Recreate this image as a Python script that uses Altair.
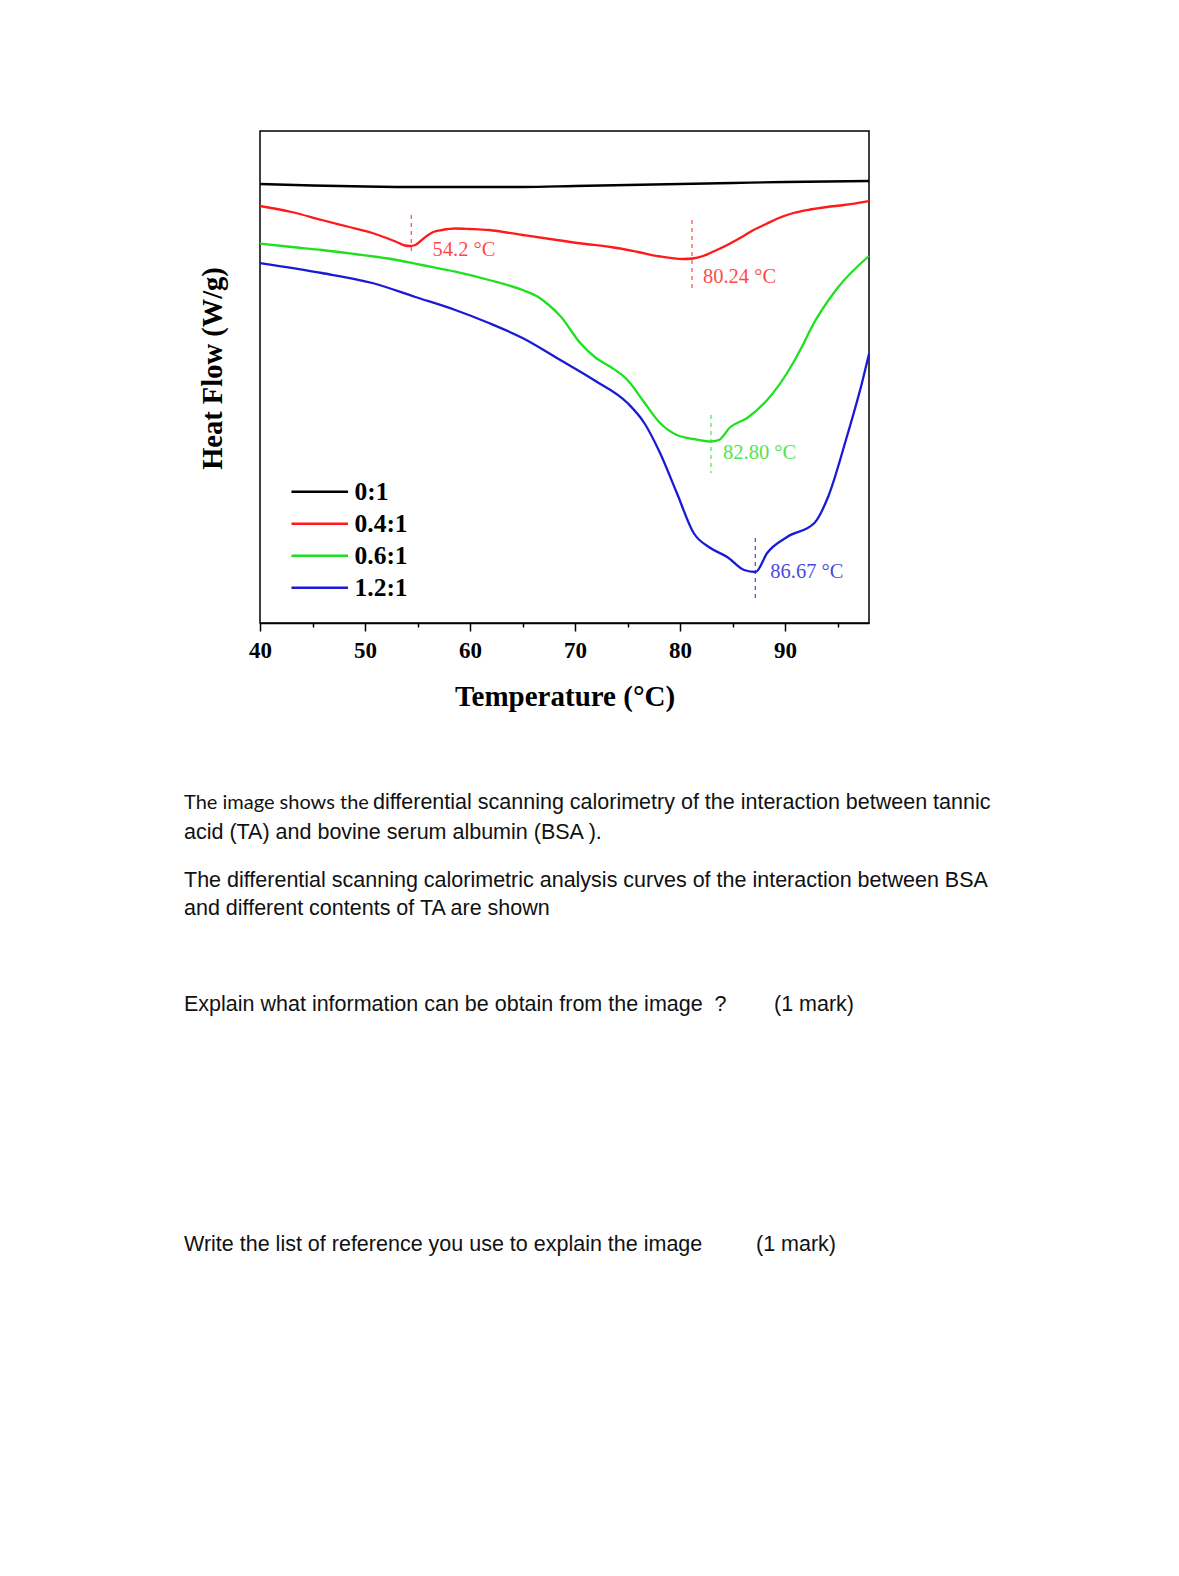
import altair as alt
import pandas as pd

# ---------------- data (arbitrary heat-flow units) -------------
series_names = ["0:1", "0.4:1", "0.6:1", "1.2:1"]
series_colors = ["#000000", "#ff1a1a", "#1fe01f", "#1a1ad6"]

t_black = [40, 45, 50, 55, 60, 65, 70, 75, 80, 85, 90, 98]
hf_black = [4.36, 4.345, 4.335, 4.33, 4.33, 4.33, 4.34, 4.35, 4.36, 4.37, 4.38, 4.39]

t_red = [40, 43, 45.9, 48.5, 50.7, 52.9, 53.8, 54.3, 54.8, 55.3, 55.8, 56.5, 57.35, 58.6,
         60, 61.8, 65, 68.6, 71, 73.4, 76, 78.1, 80.3, 81.2, 82.2, 83.3, 84.5, 85.8, 87,
         88.2, 89.3, 90.8, 92.4, 94, 95.6, 98]
hf_red = [4.14, 4.08, 4.00, 3.93, 3.87, 3.785, 3.745, 3.74, 3.75, 3.79, 3.833, 3.88, 3.90, 3.915,
          3.91, 3.90, 3.85, 3.795, 3.76, 3.73, 3.68, 3.635, 3.61, 3.615, 3.64, 3.69, 3.75, 3.825, 3.90,
          3.96, 4.015, 4.07, 4.105, 4.13, 4.15, 4.19]

t_green = [40, 43, 45.9, 49, 52.2, 55.4, 58.6, 61.8, 65, 66.5, 67.5, 68.6, 70.5, 72, 73.4, 75,
           76.5, 78.1, 79.7, 81.3, 82.9, 83.7, 84.8, 86.4, 88.3, 90.2, 91.8, 92.4, 95, 98]
hf_green = [3.765, 3.73, 3.70, 3.66, 3.615, 3.55, 3.483, 3.40, 3.30, 3.23, 3.15, 3.04, 2.77, 2.62,
            2.53, 2.40, 2.19, 1.97, 1.85, 1.81, 1.785, 1.80, 1.93, 2.02, 2.20, 2.47, 2.77, 2.90,
            3.32, 3.64]

t_blue = [40, 45.9, 50.7, 54.8, 58.6, 61.8, 65, 68.6, 71.8, 75, 76.6, 78.1, 79.7, 81.3, 82.9,
          84.5, 86.1, 87.2, 88.3, 90.2, 92.8, 94.1, 95.8, 97.4, 98]
hf_blue = [3.57, 3.47, 3.37, 3.23, 3.10, 2.97, 2.82, 2.60, 2.40, 2.17, 1.97, 1.67, 1.27, 0.87,
           0.72, 0.63, 0.50, 0.48, 0.67, 0.83, 0.97, 1.23, 1.80, 2.40, 2.66]

# peak annotations
ann_series = ["0.4:1", "0.4:1", "0.6:1", "1.2:1"]
ann_text = ["54.2 \u00b0C", "80.24 \u00b0C", "82.80 \u00b0C", "86.67 \u00b0C"]
ann_marker_t = [54.41, 81.14, 82.95, 87.17]
ann_top = [4.05, 4.00, 2.05, 0.82]
ann_bottom = [3.65, 3.28, 1.47, 0.22]
ann_label_t = [56.43, 82.19, 84.1, 88.6]
ann_label_hf = [3.70, 3.43, 1.67, 0.48]

x_values = [40, 45, 50, 55, 60, 65, 70, 75, 80, 85, 90, 95]

page_lines = [
    "The image shows the",
    "differential scanning calorimetry of the interaction between tannic",
    "acid (TA) and bovine serum albumin (BSA ).",
    "The differential scanning calorimetric analysis curves of the interaction between BSA",
    "and different contents of TA are shown",
    "Explain what information can be obtain from the image \u00a0?",
    "(1 mark)",
    "Write the list of reference you use to explain the image",
    "(1 mark)",
]

# ---------------- build tables ----------------
rows = []
for name, ts, vs in zip(series_names,
                        [t_black, t_red, t_green, t_blue],
                        [hf_black, hf_red, hf_green, hf_blue]):
    for t, v in zip(ts, vs):
        rows.append({"series": name, "temp": t, "hf": v})
df = pd.DataFrame(rows)

ann = pd.DataFrame({
    "series": ann_series, "text": ann_text, "mt": ann_marker_t,
    "top": ann_top, "bottom": ann_bottom, "lt": ann_label_t, "lhf": ann_label_hf,
})

SERIF = "Liberation Serif"
SANS = "Liberation Sans"

x_scale = alt.Scale(domain=[40, 98], nice=False, zero=False)
y_scale = alt.Scale(domain=[-0.03, 4.89], nice=False, zero=False)
color_scale = alt.Scale(domain=series_names, range=series_colors)

x_axis = alt.Axis(
    title="Temperature (\u00b0C)",
    values=x_values,
    labelExpr="datum.value % 10 === 0 ? datum.label : ''",
    tickSize={"condition": {"test": "datum.value % 10 === 0", "value": 8}, "value": 4},
    tickColor="#000000", tickWidth=1.5,
    domainColor="#000000", domainWidth=1.5,
    labelFont=SERIF, labelFontWeight="bold", labelFontSize=23, labelColor="#000000",
    labelPadding=8, labelFlush=False, labelOverlap=False,
    titleFont=SERIF, titleFontWeight="bold", titleFontSize=29, titleColor="#000000",
    titlePadding=20, grid=False,
)
y_axis = alt.Axis(
    title="Heat Flow (W/g)", labels=False, ticks=False, domain=False, grid=False,
    titleFont=SERIF, titleFontWeight="bold", titleFontSize=28.5, titleColor="#000000",
    titlePadding=33, titleY=237,
)

lines = alt.Chart(df).mark_line(strokeWidth=2.3, interpolate="monotone").encode(
    x=alt.X("temp:Q", scale=x_scale, axis=x_axis),
    y=alt.Y("hf:Q", scale=y_scale, axis=y_axis),
    color=alt.Color(
        "series:N", scale=color_scale,
        legend=alt.Legend(
            title=None, orient="none", legendX=47, legendY=348,
            symbolType="M-4,0H4", symbolSize=200, symbolStrokeWidth=2.3,
            labelFont=SERIF, labelFontWeight="bold", labelFontSize=25.5, labelColor="#000000",
            labelOffset=22, rowPadding=5, padding=0,
        ),
    ),
)

rules = alt.Chart(ann).mark_rule(strokeDash=[4, 4], strokeWidth=1.2, opacity=0.8).encode(
    x=alt.X("mt:Q", scale=x_scale),
    y=alt.Y("top:Q", scale=y_scale),
    y2="bottom:Q",
    color=alt.Color("series:N", scale=color_scale, legend=None),
)

labels = alt.Chart(ann).mark_text(
    align="left", baseline="middle", font=SERIF, fontSize=20.5, opacity=0.8
).encode(
    x=alt.X("lt:Q", scale=x_scale),
    y=alt.Y("lhf:Q", scale=y_scale),
    text="text:N",
    color=alt.Color("series:N", scale=color_scale, legend=None),
)

# page text, positioned relative to the plot origin (page x 260, y 131)
page_pos = [(184, 803), (373, 803), (184, 833), (184, 881), (184, 909),
            (184, 1005), (774, 1005), (184, 1245), (756, 1245)]
page_fonts = ["Lato", SANS, SANS, SANS, SANS, SANS, SANS, SANS, SANS]
page_sizes = [20, 21.5, 21.5, 21.5, 21.5, 21.5, 21.5, 21.5, 21.5]
text_layers = []
for line, (px, py), fnt, fs in zip(page_lines, page_pos, page_fonts, page_sizes):
    text_layers.append(
        alt.Chart(pd.DataFrame({"t": [line]})).mark_text(
            align="left", baseline="middle", font=fnt, fontSize=fs, color="#111111"
        ).encode(x=alt.value(px - 260), y=alt.value(py - 131), text="t:N")
    )

chart = alt.layer(lines, rules, labels, *text_layers).properties(
    width=609, height=492,
    padding={"left": 252, "top": 123, "right": 302, "bottom": 880},
    autosize=alt.AutoSizeParams(type="none"),
    background="#ffffff",
).configure_view(stroke="#000000", strokeWidth=1.5)

chart.save("out.html", embed_options={"renderer": "svg", "actions": False})
